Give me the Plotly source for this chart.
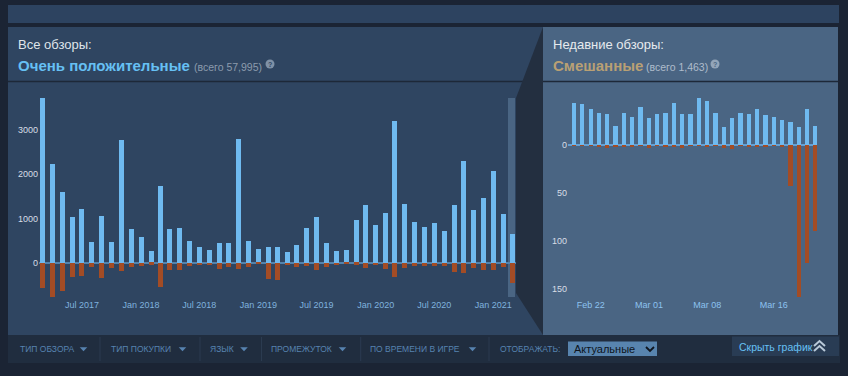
import pandas as pd
import plotly.graph_objects as go

W, H = 848, 376
FONT = "Arial, 'Liberation Sans', sans-serif"

# ---------------- data ----------------
all_months = pd.date_range("2017-03-01", "2021-03-01", freq="MS")
all_positive = [3711, 2221, 1603, 1031, 1219, 460, 1054, 460, 2769, 767, 580, 271,
                1738, 760, 783, 483, 354, 287, 437, 445, 2784, 490, 317, 365,
                361, 234, 399, 775, 1031, 452, 264, 279, 963, 1295, 843, 1114,
                3198, 1333, 911, 805, 888, 715, 1309, 2288, 1189, 1467, 2070, 1092, 648]
all_negative = [564, 781, 632, 323, 307, 104, 338, 113, 180, 90, 68, 45,
                542, 158, 165, 81, 52, 52, 142, 97, 135, 90, 36, 365,
                391, 59, 90, 68, 158, 97, 52, 36, 45, 113, 59, 142,
                316, 120, 81, 68, 68, 68, 203, 233, 113, 165, 165, 90, 465]

recent_days = pd.date_range("2021-02-20", periods=30, freq="D")
recent_positive = [44, 43, 38, 33, 32, 20, 33, 29, 40, 28, 32, 33, 44, 32, 32,
                   49, 46, 33, 19, 28, 33, 32, 37, 31, 29, 26, 24, 19, 38, 20]
recent_negative = [1, 1, 1, 2, 3, 2, 2, 2, 1, 3, 1, 2, 2, 3, 1,
                   1, 2, 1, 3, 4, 1, 2, 2, 2, 1, 2, 43, 158, 123, 90]

all_ticks = pd.date_range("2017-07-01", "2021-01-01", freq="6MS")
recent_ticks = pd.to_datetime(["2021-02-22", "2021-03-01", "2021-03-08", "2021-03-16"])
all_yticks = [0, 1000, 2000, 3000]
recent_yticks = [0, -50, -100, -150]
recent_yticktext = ["0", "50", "100", "150"]

header_all = ("Все обзоры:", "Очень положительные", "(всего 57,995)")
header_recent = ("Недавние обзоры:", "Смешанные", "(всего 1,463)")
filters = ["ТИП ОБЗОРА", "ТИП ПОКУПКИ", "ЯЗЫК", "ПРОМЕЖУТОК", "ПО ВРЕМЕНИ В ИГРЕ"]
display_label = "ОТОБРАЖАТЬ:"
display_value = "Актуальные"
hide_label = "Скрыть график"

# ---------------- colours ----------------
PAGE = "#1b2434"
STRIP = "#2d4360"
LEFT = "#2f4561"
RIGHT = "#4a6583"
SHADOW = "#232f40"
POS = "#6fbaf0"
NEG = "#a34c25"


def px(x):
    return x / W


def py(y):
    return 1 - y / H


# ---------------- axis calibration ----------------
L_DOM = (39, 516)
l_t0, l_t1 = all_months[0], all_months[-1]
l_p0, l_p1 = 42.7, 512.3
l_mspp = (l_t1 - l_t0) / (l_p1 - l_p0)
l_range = [l_t0 - (l_p0 - L_DOM[0]) * l_mspp, l_t1 + (L_DOM[1] - l_p1) * l_mspp]
l_width = 5.0 * l_mspp.total_seconds() * 1000

Y_DOM = (88, 298)
l_zero, l_ppu = 262.7, 44.3 / 1000
l_yrange = [-(Y_DOM[1] - l_zero) / l_ppu, (l_zero - Y_DOM[0]) / l_ppu]

R_DOM = (568, 817)
r_t0, r_t1 = recent_days[0], recent_days[-1]
r_p0, r_p1 = 574.0, 815.5
r_mspp = (r_t1 - r_t0) / (r_p1 - r_p0)
r_range = [r_t0 - (r_p0 - R_DOM[0]) * r_mspp, r_t1 + (R_DOM[1] - r_p1) * r_mspp]
r_width = 4.3 * r_mspp.total_seconds() * 1000

r_zero, r_ppu = 145.0, 0.96
r_yrange = [-(Y_DOM[1] - r_zero) / r_ppu, (r_zero - Y_DOM[0]) / r_ppu]

fig = go.Figure()
fig.add_trace(go.Bar(x=all_months, y=all_positive, marker_color=POS, width=l_width,
                     marker_line_width=0, xaxis="x", yaxis="y", hoverinfo="skip"))
fig.add_trace(go.Bar(x=all_months, y=[-v for v in all_negative], marker_color=NEG, width=l_width,
                     marker_line_width=0, xaxis="x", yaxis="y", hoverinfo="skip"))
fig.add_trace(go.Bar(x=recent_days, y=recent_positive, marker_color=POS, width=r_width,
                     marker_line_width=0, xaxis="x2", yaxis="y2", hoverinfo="skip"))
fig.add_trace(go.Bar(x=recent_days, y=[-v for v in recent_negative], marker_color=NEG, width=r_width,
                     marker_line_width=0, xaxis="x2", yaxis="y2", hoverinfo="skip"))

shapes = []


def rect(x0, y0, x1, y1, color, layer="below", line=None):
    shapes.append(dict(type="rect", xref="paper", yref="paper", x0=px(x0), x1=px(x1),
                       y0=py(y1), y1=py(y0), fillcolor=color, layer=layer,
                       line=dict(width=0) if line is None else line))


def path(points, fill=None, stroke=None, width=1.5, closed=True, layer="below"):
    d = "M " + " L ".join(f"{px(a):.5f},{py(b):.5f}" for a, b in points)
    if closed:
        d += " Z"
    s = dict(type="path", xref="paper", yref="paper", path=d, layer=layer)
    if fill:
        s["fillcolor"] = fill
    s["line"] = dict(width=width, color=stroke) if stroke else dict(width=0)
    shapes.append(s)


def hline(x0, x1, y, color, width=1):
    shapes.append(dict(type="line", xref="paper", yref="paper", x0=px(x0), x1=px(x1),
                       y0=py(y), y1=py(y), line=dict(color=color, width=width), layer="below"))


def vline(x, y0, y1, color, width=1):
    shapes.append(dict(type="line", xref="paper", yref="paper", x0=px(x), x1=px(x),
                       y0=py(y0), y1=py(y1), line=dict(color=color, width=width), layer="below"))


# panels
rect(8, 5, 839, 23, STRIP)
rect(8, 27, 543, 335, LEFT)
rect(543, 27, 838, 335, RIGHT)
hline(8, 838, 81.5, "#1d2838", 1.5)
path([(543, 27), (516, 98), (516, 293), (543, 335)], fill=SHADOW)
rect(508, 98, 515, 297, "#4a6583")
# filter bar
rect(8, 335, 840, 363, "#202d3f")
for sx in [100, 200, 261.5, 360.7, 489]:
    vline(sx, 337, 361, "#2b3b50", 1)
# question mark circles
for cx in [270, 715]:
    shapes.append(dict(type="circle", xref="paper", yref="paper", x0=px(cx - 4.5), x1=px(cx + 4.5),
                       y0=py(68.5), y1=py(59.5), fillcolor="#7f91a6" if cx < 400 else "#93a5b9",
                       line=dict(width=0), layer="above"))
# dropdown box
rect(568, 341.5, 657, 356, "#5884ae")
path([(646, 347), (650, 351), (654, 347)], stroke="#10161f", width=1.8, closed=False, layer="above")
# hide graph button
rect(732, 336.5, 839, 356, "#293c54")
path([(814, 346), (819.5, 341), (825, 346)], stroke="#b9c9d8", width=2, closed=False, layer="above")
path([(814, 351), (819.5, 346), (825, 351)], stroke="#b9c9d8", width=2, closed=False, layer="above")

annotations = []


def text(x, y, s, size, color, bold=False, anchor="left"):
    annotations.append(dict(xref="paper", yref="paper", x=px(x), y=py(y), text=f"<b>{s}</b>" if bold else s,
                            showarrow=False, xanchor=anchor, yanchor="middle", borderpad=0,
                            font=dict(family=FONT, size=size, color=color)))


text(16.5, 45, header_all[0], 13, "#dfe4ea")
text(16.5, 65.5, header_all[1], 15, "#66c0f4", bold=True)
text(192.5, 66.5, header_all[2], 10.5, "#8c9bad")
text(270, 64, "?", 7, LEFT, bold=True, anchor="center")
text(552, 45, header_recent[0], 13, "#e6eaee")
text(552, 65.5, header_recent[1], 15, "#b9a074", bold=True)
text(644.5, 66.5, header_recent[2], 10.5, "#aebccb")
text(715, 64, "?", 7, RIGHT, bold=True, anchor="center")

FILTER_C = "#5783b0"
filter_x = [19, 110, 209, 270, 369.3]
arrow_x = [83.5, 182.5, 244, 342.5, 472.5]
for name, fx, ax in zip(filters, filter_x, arrow_x):
    text(fx, 349, name, 8.5, FILTER_C)
    path([(ax - 3.8, 347.2), (ax + 3.8, 347.2), (ax, 351.2)], fill=FILTER_C, layer="above")
text(499, 349, display_label, 8.5, FILTER_C)
text(572.5, 349, display_value, 11, "#0e141c")
text(738, 346.5, hide_label, 10.5, "#67c1f5")

tickfont_y = dict(family=FONT, size=9, color="#d8dee6")
tickfont_x = dict(family=FONT, size=9, color="#7fb2de")

fig.update_layout(
    width=W, height=H, margin=dict(l=0, r=0, t=0, b=0, pad=0),
    paper_bgcolor=PAGE, plot_bgcolor="rgba(0,0,0,0)",
    barmode="overlay", bargap=0, showlegend=False,
    shapes=shapes, annotations=annotations,
    xaxis=dict(domain=[px(L_DOM[0]), px(L_DOM[1])], type="date", range=l_range, anchor="y",
               tickvals=list(all_ticks), tickformat="%b %Y", tickfont=tickfont_x,
               showgrid=False, zeroline=False, showline=False, ticks="", fixedrange=True),
    yaxis=dict(domain=[py(Y_DOM[1]), py(Y_DOM[0])], range=l_yrange, anchor="x",
               tickvals=all_yticks, tickfont=tickfont_y, showgrid=False,
               zeroline=True, zerolinecolor="#5283ad", zerolinewidth=2, ticks="", fixedrange=True),
    xaxis2=dict(domain=[px(R_DOM[0]), px(R_DOM[1])], type="date", range=r_range, anchor="y2",
                tickvals=list(recent_ticks), tickformat="%b %d", tickfont=dict(family=FONT, size=9, color="#8cc2ef"),
                showgrid=False, zeroline=False, showline=False, ticks="", fixedrange=True),
    yaxis2=dict(domain=[py(Y_DOM[1]), py(Y_DOM[0])], range=r_yrange, anchor="x2",
                tickvals=recent_yticks, ticktext=recent_yticktext, tickfont=tickfont_y, showgrid=False,
                zeroline=True, zerolinecolor="#64a0d4", zerolinewidth=2, ticks="", fixedrange=True),
)

fig.write_html("out.html", config={"displayModeBar": False},
               post_script="document.body.style.margin='0';document.body.style.background='" + PAGE + "';")
